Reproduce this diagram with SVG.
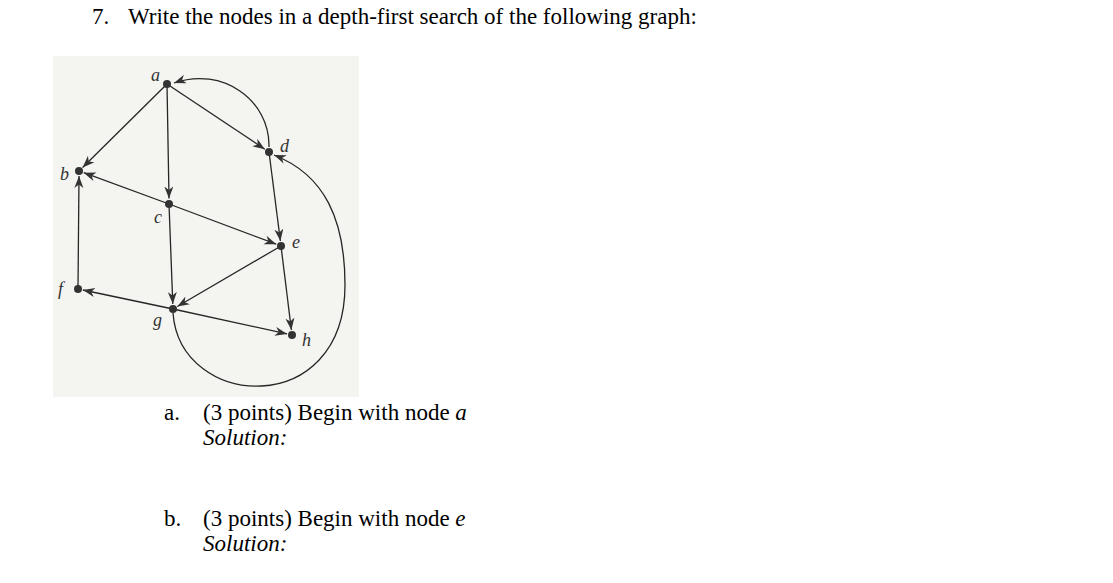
<svg xmlns="http://www.w3.org/2000/svg" width="1113" height="583" viewBox="0 0 1113 583">
<defs>
<style>
.t{font-family:"Liberation Serif","Times New Roman",serif;font-size:23px;fill:#000}
.i{font-style:italic}
.lbl{font-family:"Liberation Serif","Times New Roman",serif;font-style:italic;font-size:18px;fill:#333}
.e{fill:none;stroke:#262626;stroke-width:1.3}
.n{fill:#333}
</style>
<marker id="ah" markerUnits="userSpaceOnUse" markerWidth="15" markerHeight="11" refX="12" refY="4.5" orient="auto">
<path d="M0,0 L12,4.5 L0,9 L3.5,4.5 Z" fill="#333"/>
</marker>
</defs>
<rect x="0" y="0" width="1113" height="583" fill="#fff"/>
<rect x="53" y="56" width="306" height="341" fill="#f4f4f1"/>
<g id="connectors">
<line class="e" x1="167" y1="84" x2="82.6" y2="167.5" marker-end="url(#ah)"/>
<line class="e" x1="167" y1="84" x2="169" y2="198.5" marker-end="url(#ah)"/>
<line class="e" x1="167" y1="84" x2="264.8" y2="149.2" marker-end="url(#ah)"/>
<path class="e" d="M269,147 C270,100 222,66 174,83" marker-end="url(#ah)"/>
<line class="e" x1="169" y1="204" x2="83.7" y2="172.7" marker-end="url(#ah)"/>
<line class="e" x1="169" y1="204" x2="276.3" y2="244.2" marker-end="url(#ah)"/>
<line class="e" x1="169" y1="204" x2="172.8" y2="304" marker-end="url(#ah)"/>
<line class="e" x1="269" y1="152" x2="280.4" y2="241" marker-end="url(#ah)"/>
<line class="e" x1="281" y1="246" x2="177.3" y2="306.5" marker-end="url(#ah)"/>
<line class="e" x1="281" y1="246" x2="291.4" y2="330" marker-end="url(#ah)"/>
<line class="e" x1="78" y1="289" x2="79" y2="176" marker-end="url(#ah)"/>
<line class="e" x1="173" y1="309" x2="82.9" y2="290" marker-end="url(#ah)"/>
<line class="e" x1="173" y1="309" x2="287.1" y2="333.9" marker-end="url(#ah)"/>
<path class="e" d="M173,313 C180,410 345,420 345,285 C345,220 325,175 274,155" marker-end="url(#ah)"/>
</g>
<g id="node-a"><circle class="n" cx="167" cy="84" r="4"/><text class="lbl" x="151" y="81">a</text></g>
<g id="node-b"><circle class="n" cx="79" cy="171" r="4"/><text class="lbl" x="60" y="180">b</text></g>
<g id="node-c"><circle class="n" cx="169" cy="204" r="4"/><text class="lbl" x="154" y="223">c</text></g>
<g id="node-d"><circle class="n" cx="269" cy="152" r="4"/><text class="lbl" x="280" y="152">d</text></g>
<g id="node-e"><circle class="n" cx="281" cy="246" r="4"/><text class="lbl" x="292" y="248">e</text></g>
<g id="node-f"><circle class="n" cx="78" cy="289" r="4"/><text class="lbl" x="58" y="295">f</text></g>
<g id="node-g"><circle class="n" cx="173" cy="309" r="4"/><text class="lbl" x="153" y="326">g</text></g>
<g id="node-h"><circle class="n" cx="292" cy="335" r="4"/><text class="lbl" x="302" y="346">h</text></g>
<text class="t" x="92" y="24">7.</text>
<text class="t" x="128" y="24">Write the nodes in a depth-first search of the following graph:</text>
<text class="t" x="164" y="420">a.</text>
<text class="t" x="203" y="420">(3 points) Begin with node <tspan class="i">a</tspan></text>
<text class="t i" x="203" y="445">Solution:</text>
<text class="t" x="164" y="526">b.</text>
<text class="t" x="203" y="526">(3 points) Begin with node <tspan class="i">e</tspan></text>
<text class="t i" x="203" y="551">Solution:</text>
</svg>
